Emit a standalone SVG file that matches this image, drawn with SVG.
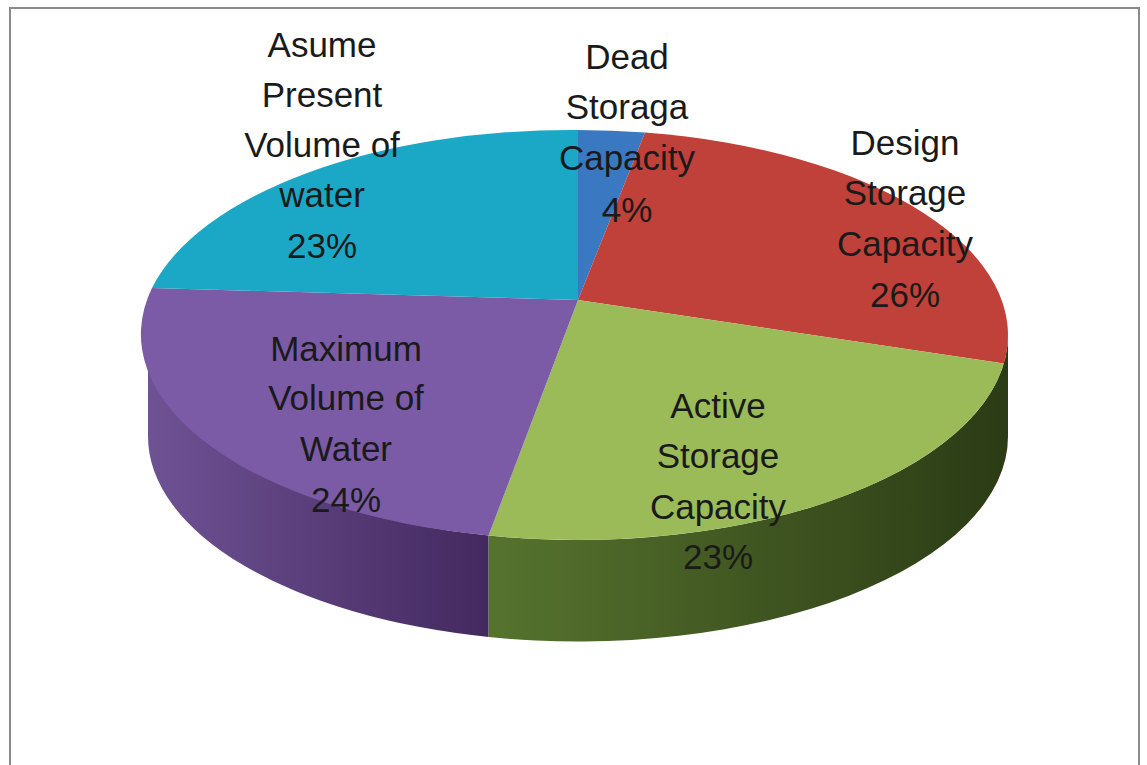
<svg xmlns="http://www.w3.org/2000/svg" width="1147" height="765" viewBox="0 0 1147 765">
<style>
text{font-family:"Liberation Sans",Arial,sans-serif;font-size:35px;fill:#1a1a1a;text-anchor:middle}
</style>
<defs>
<linearGradient id="gp" x1="0" x2="1" y1="0" y2="0"><stop offset="0" stop-color="#6e5294"/><stop offset="1" stop-color="#43295f"/></linearGradient>
<linearGradient id="gg" x1="0" x2="1" y1="0" y2="0"><stop offset="0" stop-color="#56732e"/><stop offset="1" stop-color="#2b3b15"/></linearGradient>
</defs>
<rect x="0" y="0" width="1147" height="765" fill="#fff"/>
<rect x="10" y="8" width="1129" height="770" fill="none" stroke="#8a8a8a" stroke-width="2"/>
<g id="sides">
<path d="M148,335 A430,205 0 0 0 488.6,535.5 L488.6,637 A430,205 0 0 1 148,436 Z" fill="url(#gp)"/>
<path d="M488.6,535.5 A430,205 0 0 0 1008,335 L1008,436 A430,205 0 0 1 488.6,637 Z" fill="url(#gg)"/>
</g>
<g id="slices">
<g id="dead"><path d="M578,300 L578,130 A430,205 0 0 1 645,132.5 Z" fill="#3a78c2"/></g>
<g id="design"><path d="M578,300 L645,132.5 A430,205 0 0 1 1003.8,363.5 Z" fill="#c0403a"/></g>
<g id="active"><path d="M578,300 L1003.8,363.5 A430,205 0 0 1 488.6,535.5 Z" fill="#9bbb59"/></g>
<g id="maximum"><path d="M578,300 L488.6,535.5 A430,205 0 0 1 152,288 Z" fill="#7b5ba6"/></g>
<g id="present"><path d="M578,300 L152,288 A430,205 0 0 1 578,130 Z" fill="#1ba7c6"/></g>
</g>
<g id="labels">
<text x="322" y="57">Asume</text><text x="322" y="107">Present</text><text x="322" y="157">Volume of</text><text x="322" y="207">water</text><text x="322" y="258">23%</text>
<text x="627" y="69">Dead</text><text x="627" y="119">Storaga</text><text x="627" y="170">Capacity</text><text x="627" y="222">4%</text>
<text x="905" y="155">Design</text><text x="905" y="205">Storage</text><text x="905" y="256">Capacity</text><text x="905" y="307">26%</text>
<text x="346" y="361">Maximum</text><text x="346" y="410">Volume of</text><text x="346" y="461">Water</text><text x="346" y="512">24%</text>
<text x="718" y="418">Active</text><text x="718" y="468">Storage</text><text x="718" y="519">Capacity</text><text x="718" y="569">23%</text>
</g>
</svg>
